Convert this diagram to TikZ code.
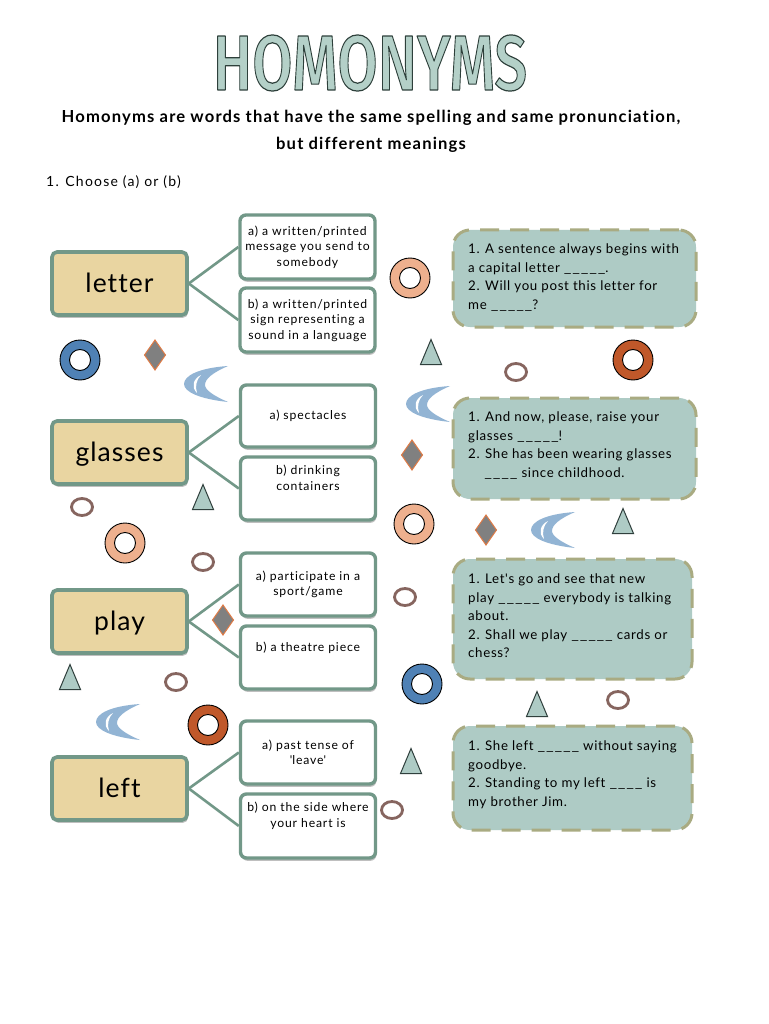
\documentclass[tikz,border=0pt]{standalone}
\usepackage{fontspec}
\setmainfont{Lato}[LetterSpace=4,Ligatures={NoCommon}]
\newfontfamily\titlefont{Fira Sans Medium}
\newfontfamily\bodyfont{Lato}[LetterSpace=5,Ligatures={NoCommon}]
\newfontfamily\deffont{Lato}[LetterSpace=7,Ligatures={NoCommon}]
\newfontfamily\introfont{Lato}[LetterSpace=7,Ligatures={NoCommon}]
\newfontfamily\choosefont{Lato}[LetterSpace=9,Ligatures={NoCommon}]
\usetikzlibrary{shapes.geometric,calc,shadows}
\definecolor{tanfill}{HTML}{E9D5A1}
\definecolor{sage}{HTML}{729888}
\definecolor{teal}{HTML}{AECBC5}
\definecolor{olive}{HTML}{A9AB82}
\definecolor{moonblue}{HTML}{92B4D4}
\definecolor{ringblue}{HTML}{4F81B5}
\definecolor{salmon}{HTML}{EEB08E}
\definecolor{rust}{HTML}{C0582A}
\definecolor{brownring}{HTML}{86655F}
\definecolor{greyd}{HTML}{808080}
\definecolor{oranged}{HTML}{E07B45}
\definecolor{darkline}{HTML}{2F3F3C}
\tikzset{
  x=1pt,y=-1pt,
  softshadow/.style={drop shadow={shadow xshift=1pt,shadow yshift=-2.8pt,opacity=.25,fill=black}},
  wordbox/.style={draw=sage,line width=3.6pt,fill=tanfill,rounded corners=5pt,minimum width=135pt,minimum height=63pt,inner sep=0pt,text height=22pt,text depth=4pt,font=\fontsize{26.5}{28}\selectfont,softshadow},
  defbox/.style={draw=sage,line width=3.4pt,fill=white,rounded corners=6pt,minimum width=135pt,inner sep=0pt,font=\deffont\fontsize{12.2}{15.6}\selectfont,align=center,softshadow},
  link/.style={draw=sage,line width=2.6pt},
  sentbox/.style={draw=olive,line width=3pt,fill=teal,rounded corners=17pt,dash pattern=on 19pt off 11pt,inner sep=0pt},
  sent/.style={anchor=north west,align=left,inner sep=0pt,font=\bodyfont\fontsize{13.3}{18.6}\selectfont},
  bigring/.style={draw=black,line width=.9pt,fill=#1,even odd rule},
  smallring/.style={draw=brownring,line width=2.8pt,fill=white},
  tri/.style={draw=darkline,line width=1pt,fill=teal,line join=miter},
  dia/.style={draw=oranged,line width=1pt,fill=greyd},
}
\newcommand{\ringB}[2]{\path[bigring=#2] (#1) circle[radius=20] circle[radius=10.5];}
\newcommand{\ringS}[1]{\path[smallring] (#1) ellipse[x radius=10.5,y radius=8.5];}
\newcommand{\triA}[1]{\path[tri] ($(#1)+(0,-12.5)$) -- ($(#1)+(10.5,12.5)$) -- ($(#1)+(-10.5,12.5)$) -- cycle;}
\newcommand{\diaA}[1]{\path[dia] ($(#1)+(0,-15)$) -- ($(#1)+(10.5,0)$) -- ($(#1)+(0,15)$) -- ($(#1)+(-10.5,0)$) -- cycle;}
\newcommand{\moonA}[1]{%
  \begin{scope}[shift={(#1)}]
  \fill[moonblue] (22,-18) .. controls (-8,-16) and (-22,-8) .. (-22,0) .. controls (-22,8) and (-6,15) .. (22,18)
     .. controls (8,12) and (-1,6) .. (-1,1) .. controls (-1,-5) and (6,-11) .. (22,-18) -- cycle;
  \fill[white] (-5,-9) .. controls (-13,-5) and (-15,3) .. (-9,9) .. controls (-11,3) and (-10,-4) .. (-5,-9) -- cycle;
  \end{scope}}
\newcommand{\blank}{\scalebox{1.25}[1]{\_\_\_\_\_}}
\begin{document}
\begin{tikzpicture}
\useasboundingbox (0,0) rectangle (768,1024);
\fill[white] (0,0) rectangle (768,1024);
% title
\node[inner sep=0pt,anchor=center] (title) at (370,63) {\special{pdf:literal direct q 2 Tr 1 j 1 J 1.2 w 0.18 0.25 0.23 RG 0.706 0.816 0.784 rg}\scalebox{.75}[1]{\titlefont\fontsize{78}{80}\selectfont HOMONYMS}\special{pdf:literal direct Q}};
\node[align=center,inner sep=0pt,font=\introfont\bfseries\fontsize{16.6}{27}\selectfont] (intro) at (371,131) {Homonyms are words that have the same spelling and same pronunciation,\\but different meanings};
\node[anchor=west,inner sep=0pt,font=\choosefont\fontsize{14}{16}\selectfont] (choose) at (46,182.5) {1. Choose (a) or (b)};
% word boxes
\node[wordbox] (w1) at (119.5,283.5) {letter};
\node[wordbox] (w2) at (119.5,452.5) {glasses};
\node[wordbox] (w3) at (119.5,621.5) {play};
\node[wordbox] (w4) at (119.5,788.5) {left};
% definitions
\node[defbox,minimum height=64pt] (a1) at (307.5,247) {a) a written/printed\\message you send to\\somebody};
\node[defbox,minimum height=64pt] (b1) at (307.5,320) {b) a written/printed\\sign representing a\\sound in a language};
\node[defbox,minimum height=62pt] (a2) at (308,416) {a) spectacles};
\node[defbox,minimum height=63pt,text depth=22pt] (b2) at (308,488.5) {b) drinking\\containers};
\node[defbox,minimum height=63pt] (a3) at (308,584.5) {a) participate in a\\sport/game};
\node[defbox,minimum height=63pt,text depth=22pt] (b3) at (308,657.5) {b) a theatre piece};
\node[defbox,minimum height=63pt] (a4) at (308,752.5) {a) past tense of\\\textquotesingle leave\textquotesingle};
\node[defbox,minimum height=64pt,text depth=23pt] (b4) at (308,826) {b) on the side where\\your heart is};
% links
\foreach \w/\d in {w1/a1,w1/b1,w2/a2,w2/b2,w3/a3,w3/b3,w4/a4,w4/b4}{\draw[link] (\w.east) -- (\d.west);}
% sentence boxes
\node[sentbox,minimum width=243pt,minimum height=97pt] (s1) at (574.5,278.5) {};
\node[sentbox,minimum width=243pt,minimum height=101pt] (s2) at (574.5,448.5) {};
\node[sentbox,minimum width=239pt,minimum height=120pt] (s3) at (572.5,619) {};
\node[sentbox,minimum width=239pt,minimum height=104pt] (s4) at (572.5,778) {};
\node[sent] (t1) at (468,243.5) {1. A sentence always begins with\\a capital letter \blank.\\2. Will you post this letter for\\me \blank?};
\node[sent] (t2) at (468,411.5) {1. And now, please, raise your\\glasses \blank!\\2. She has been wearing glasses\\\ \ \ \ \scalebox{1.25}[1]{\_\_\_\_} since childhood.};
\node[sent] (t3) at (468,573.5) {1. Let's go and see that new\\play \blank{} everybody is talking\\about.\\2. Shall we play \blank{} cards or\\chess?};
\node[sent] (t4) at (468,740.5) {1. She left \blank{} without saying\\goodbye.\\2. Standing to my left \scalebox{1.25}[1]{\_\_\_\_} is\\my brother Jim.};
% decorations
\ringB{80,360}{ringblue}
\ringB{410,278}{salmon}
\ringB{633,360}{rust}
\ringB{125,543}{salmon}
\ringB{414,524}{salmon}
\ringB{422,684}{ringblue}
\ringB{208,725}{rust}
\ringS{516,372}
\ringS{82,507}
\ringS{203,562}
\ringS{405,597}
\ringS{176,682}
\ringS{618,700}
\ringS{392,810}
\triA{431,352}
\triA{203,497}
\triA{623,521}
\triA{70,677}
\triA{537,704}
\triA{411,761}
\diaA{155,355}
\diaA{412,455}
\diaA{486,530}
\diaA{223,620}
\moonA{206,384}
\moonA{428,404}
\moonA{553,530}
\moonA{118,722}
\end{tikzpicture}
\end{document}
